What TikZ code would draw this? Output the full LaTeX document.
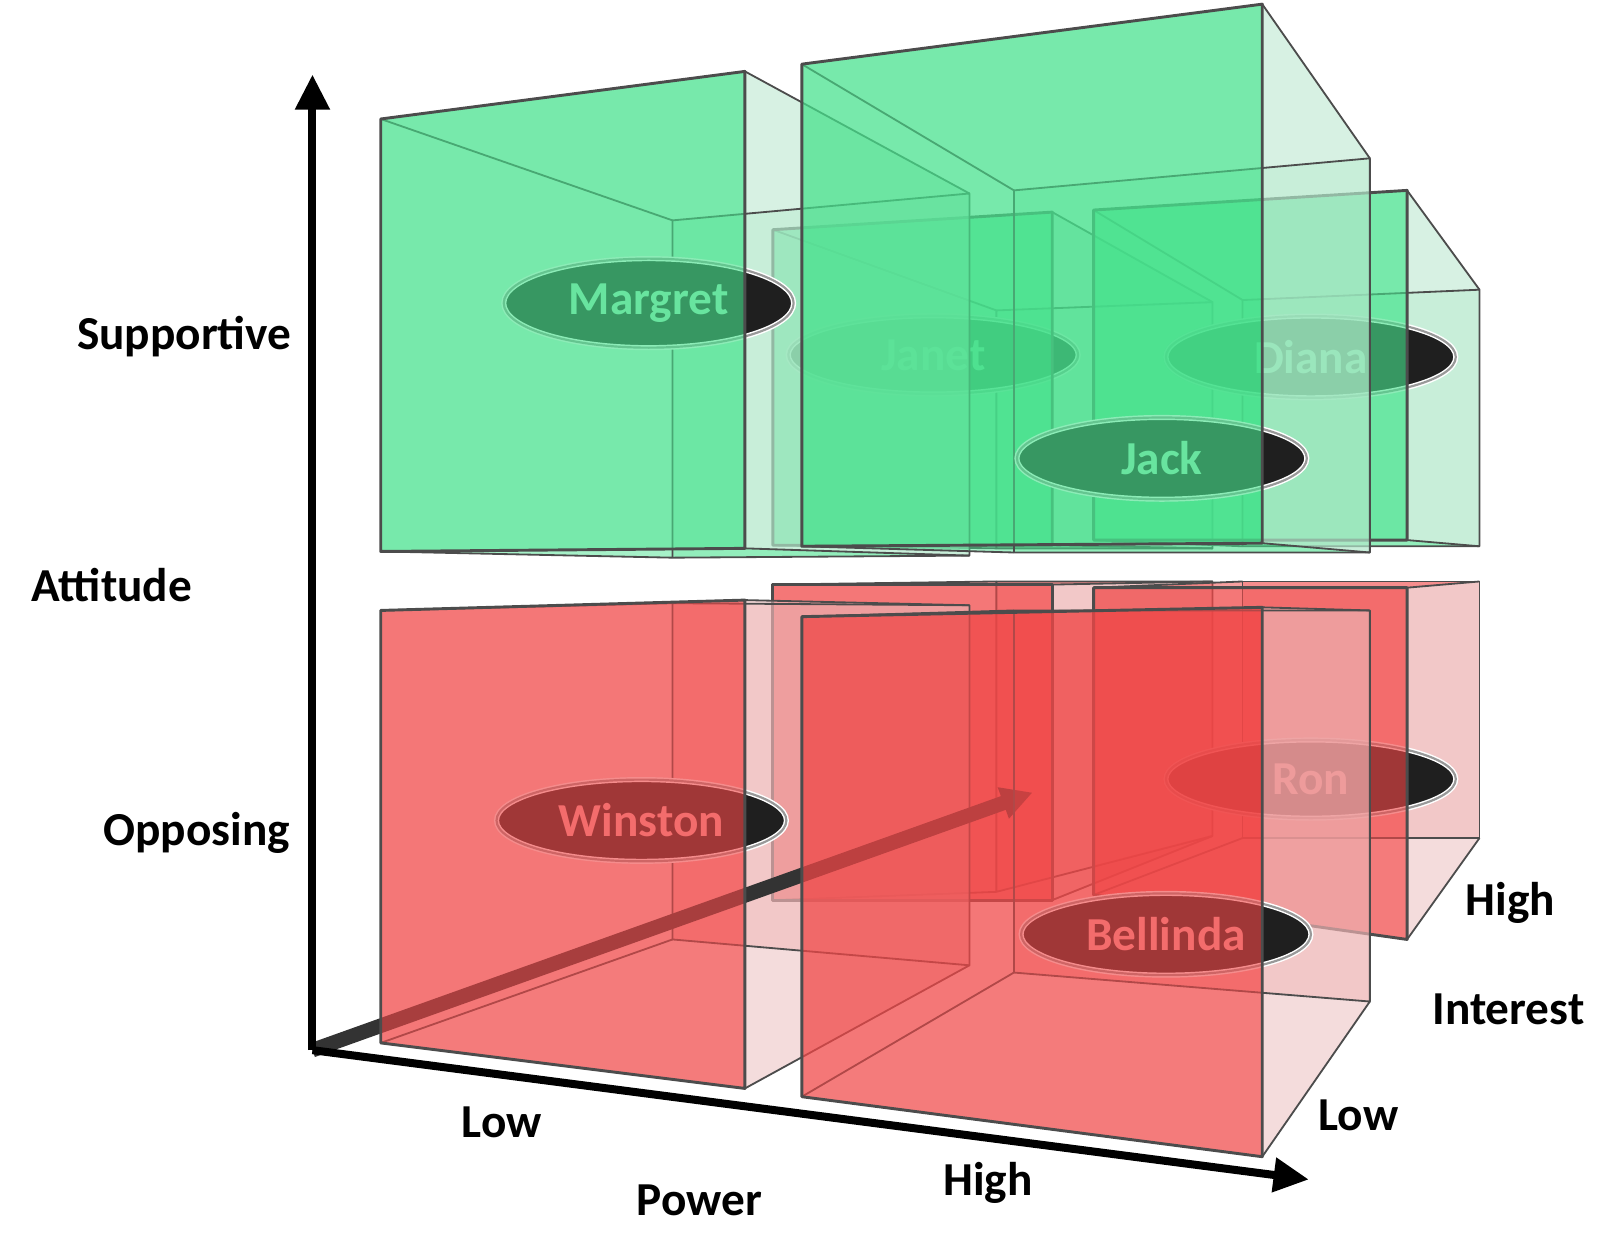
\documentclass[tikz,border=0pt]{standalone}
\usepackage{fontspec}
\setmainfont{Carlito}
\usetikzlibrary{shapes.geometric,arrows.meta}
\definecolor{sgreen}{RGB}{70,225,140}
\definecolor{sred}{RGB}{240,70,70}
\definecolor{tgreen}{RGB}{160,235,190}
\definecolor{tred}{RGB}{250,170,170}
\tikzset{
  face/.style={draw=black!70, line width=0.5pt, line join=round},
  person/.style={ellipse, fill=black!88, draw=white, double=black!40, minimum width=2.8cm, minimum height=0.72cm, font=\fontsize{13}{15}\selectfont\bfseries},
  axislabel/.style={font=\fontsize{13}{15}\selectfont\bfseries},
  axis/.style={line width=2.2pt, -{Triangle[length=0.34cm,width=0.32cm]}}
}
% back face and sides: colour, F1..F4, B1..B4 as coordinates
\newcommand\cubeback[9]{
  \fill[#1, opacity=0.45] #6 -- #7 -- #8 -- #9 -- cycle;
  \fill[#1, opacity=0.3] #2 -- #6 -- #9 -- #5 -- cycle;
  \fill[#1, opacity=0.3] #2 -- #3 -- #7 -- #6 -- cycle;
  \fill[#1, opacity=0.25] #5 -- #4 -- #8 -- #9 -- cycle;
  \fill[black!8, opacity=0.45] #3 -- #7 -- #8 -- #4 -- cycle;
  \draw[face] #6 -- #7 -- #8 -- #9 -- cycle;
  \draw[face] #2 -- #6 #3 -- #7 #4 -- #8 #5 -- #9;
}
\newcommand\cubefront[5]{
  \fill[#1, opacity=0.62] #2 -- #3 -- #4 -- #5 -- cycle;
  \draw[face, line width=0.8pt] #2 -- #3 -- #4 -- #5 -- cycle;
}
\begin{document}
\begin{tikzpicture}[x=0.01cm, y=-0.01cm]
\useasboundingbox (0,0) rectangle (1560,1208);

% opposing row, back
\cubeback{sred}{(747,565)}{(1017,565)}{(1017,870)}{(747,870)}{(963,562)}{(1172,562)}{(1172,808)}{(963,862)}
\cubefront{sred}{(747,565)}{(1017,565)}{(1017,870)}{(747,870)}
\cubeback{sred}{(1057,568)}{(1360,568)}{(1360,908)}{(1057,865)}{(1201,562)}{(1430,562)}{(1430,810)}{(1201,810)}
\node[person, text=tred] (ron) at (1267,753) {Ron};
\cubefront{sred}{(1057,568)}{(1360,568)}{(1360,908)}{(1057,865)}

% opposing row, front
\cubeback{sred}{(368,590)}{(720,580)}{(720,1052)}{(368,1008)}{(650,583)}{(937,585)}{(937,933)}{(650,908)}
\node[person, text=tred] (winston) at (620,793) {Winston};
\coordinate (origin) at (302,1015);
\coordinate (ptop) at (302,72);
\coordinate (pend) at (1265,1140);
\coordinate (iend) at (998,766);
\draw[line width=4pt, black!80, -{Triangle[length=0.3cm,width=0.3cm]}] (origin) -- (iend);
\cubefront{sred}{(368,590)}{(720,580)}{(720,1052)}{(368,1008)}
\cubeback{sred}{(775,596)}{(1220,587)}{(1220,1118)}{(775,1060)}{(980,590)}{(1324,590)}{(1324,968)}{(980,940)}
\node[person, text=tred] (bellinda) at (1127,903) {Bellinda};
\cubefront{sred}{(775,596)}{(1220,587)}{(1220,1118)}{(775,1060)}

% supportive row, back
\cubeback{sgreen}{(747,222)}{(1017,205)}{(1017,527)}{(747,527)}{(963,300)}{(1172,292)}{(1172,530)}{(963,530)}
\node[person, text=tgreen] (janet) at (902,343) {Janet};
\cubefront{sgreen}{(747,222)}{(1017,205)}{(1017,527)}{(747,527)}
\cubeback{sgreen}{(1057,203)}{(1360,184)}{(1360,522)}{(1057,522)}{(1201,290)}{(1430,280)}{(1430,528)}{(1201,528)}
\node[person, text=tgreen] (diana) at (1267,345) {Diana};
\cubefront{sgreen}{(1057,203)}{(1360,184)}{(1360,522)}{(1057,522)}

% supportive row, front
\cubeback{sgreen}{(368,115)}{(720,69)}{(720,530)}{(368,533)}{(650,213)}{(937,187)}{(937,537)}{(650,539)}
\node[person, text=tgreen] (margret) at (627,293) {Margret};
\cubefront{sgreen}{(368,115)}{(720,69)}{(720,530)}{(368,533)}
\cubeback{sgreen}{(775,62)}{(1220,4)}{(1220,525)}{(775,528)}{(980,184)}{(1324,153)}{(1324,534)}{(980,534)}
\node[person, text=tgreen] (jack) at (1123,443) {Jack};
\cubefront{sgreen}{(775,62)}{(1220,4)}{(1220,525)}{(775,528)}

% axes
\draw[axis] (origin) -- (ptop);
\draw[axis] (origin) -- (pend);

\node[axislabel] (supportive) at (178,325) {Supportive};
\node[axislabel] (attitude) at (108,565) {Attitude};
\node[axislabel] (opposing) at (190,805) {Opposing};
\node[axislabel] (plow) at (485,1085) {Low};
\node[axislabel] (power) at (676,1160) {Power};
\node[axislabel] (phigh) at (955,1143) {High};
\node[axislabel] (ilow) at (1313,1078) {Low};
\node[axislabel] (interest) at (1458,976) {Interest};
\node[axislabel] (ihigh) at (1460,873) {High};
\end{tikzpicture}
\end{document}
